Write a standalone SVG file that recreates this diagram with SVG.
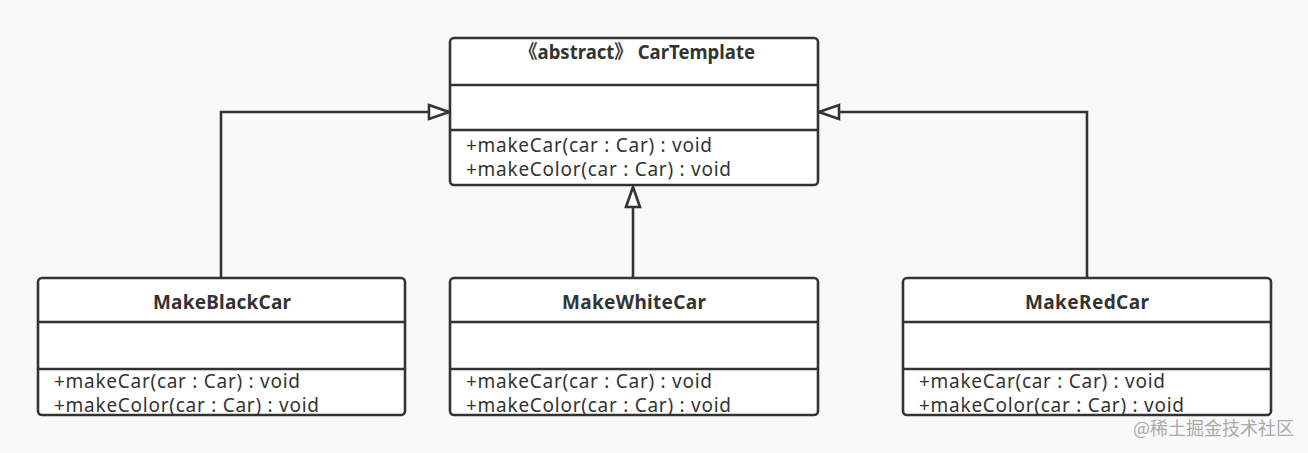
<svg xmlns="http://www.w3.org/2000/svg" width="1308" height="453" viewBox="0 0 1308 453">
<defs>
<style>
.box{fill:#fff;stroke:#333;stroke-width:2.6}
.div{stroke:#333;stroke-width:2.6}
.title{font-family:"Noto Sans","Noto Sans CJK SC",sans-serif;font-size:19px;font-weight:bold;fill:#333;text-anchor:middle}
.m{font-family:"Noto Sans","Noto Sans CJK SC",sans-serif;font-size:19px;fill:#333}
.conn{fill:none;stroke:#333;stroke-width:2.6}
.wm{font-family:"Noto Sans CJK SC",sans-serif;font-size:18px;fill:#aaa}
</style>
<marker id="gen" viewBox="0 0 24 18" refX="22" refY="9" markerWidth="24" markerHeight="18" markerUnits="userSpaceOnUse" orient="auto">
<path d="M2,2 L22,9 L2,16 Z" fill="#fff" stroke="#333" stroke-width="2.6"/>
</marker>
</defs>
<rect width="1308" height="453" fill="#f9f9f9"/>
<g id="connectors">
<path class="conn" d="M221,278 V112 H449" marker-end="url(#gen)"/>
<path class="conn" d="M633,278 V187" marker-end="url(#gen)"/>
<path class="conn" d="M1087,278 V112 H819" marker-end="url(#gen)"/>
</g>
<g id="CarTemplate">
<rect class="box" x="450" y="38" width="368" height="147" rx="4"/>
<line class="div" x1="450" y1="85" x2="818" y2="85"/>
<line class="div" x1="450" y1="130" x2="818" y2="130"/>
<text class="title" x="637" y="59" textLength="236" lengthAdjust="spacingAndGlyphs">《abstract》 CarTemplate</text>
<text class="m" x="466" y="152" textLength="246">+makeCar(car : Car) : void</text>
<text class="m" x="466" y="176" textLength="265">+makeColor(car : Car) : void</text>
</g>
<g id="MakeBlackCar">
<rect class="box" x="38" y="278" width="367" height="137" rx="4"/>
<line class="div" x1="38" y1="322" x2="405" y2="322"/>
<line class="div" x1="38" y1="369" x2="405" y2="369"/>
<text class="title" x="222" y="309" textLength="138">MakeBlackCar</text>
<text class="m" x="54" y="388" textLength="246">+makeCar(car : Car) : void</text>
<text class="m" x="54" y="412" textLength="265">+makeColor(car : Car) : void</text>
</g>
<g id="MakeWhiteCar">
<rect class="box" x="450" y="278" width="368" height="137" rx="4"/>
<line class="div" x1="450" y1="322" x2="818" y2="322"/>
<line class="div" x1="450" y1="369" x2="818" y2="369"/>
<text class="title" x="634" y="309" textLength="144">MakeWhiteCar</text>
<text class="m" x="466" y="388" textLength="246">+makeCar(car : Car) : void</text>
<text class="m" x="466" y="412" textLength="265">+makeColor(car : Car) : void</text>
</g>
<g id="MakeRedCar">
<rect class="box" x="903" y="278" width="368" height="137" rx="4"/>
<line class="div" x1="903" y1="322" x2="1271" y2="322"/>
<line class="div" x1="903" y1="369" x2="1271" y2="369"/>
<text class="title" x="1087" y="309" textLength="124">MakeRedCar</text>
<text class="m" x="919" y="388" textLength="246">+makeCar(car : Car) : void</text>
<text class="m" x="919" y="412" textLength="265">+makeColor(car : Car) : void</text>
</g>
<text class="wm" x="1133" y="435">@稀土掘金技术社区</text>
</svg>
